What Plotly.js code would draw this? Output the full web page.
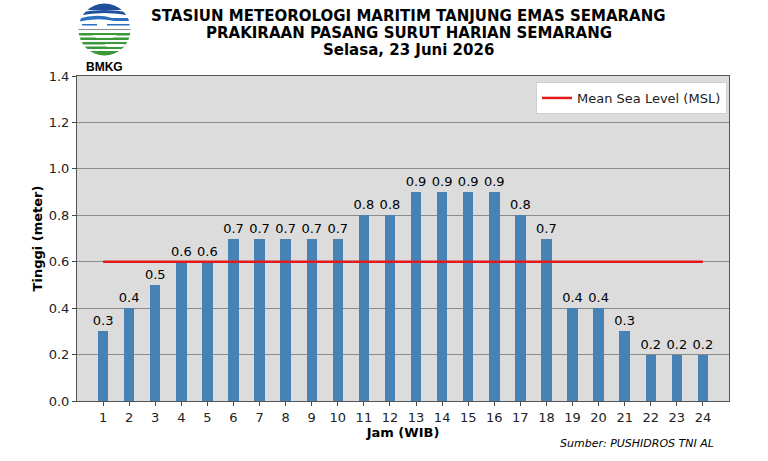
<!DOCTYPE html>
<html>
<head>
<meta charset="utf-8">
<script src="https://cdn.plot.ly/plotly-3.0.1.min.js"></script>
<style>html,body{margin:0;padding:0;background:#fff;}#chart{width:768px;height:461px;}</style>
</head>
<body>
<div id="chart"></div>
<script>
const hours = [1,2,3,4,5,6,7,8,9,10,11,12,13,14,15,16,17,18,19,20,21,22,23,24];
const heights = [0.3,0.4,0.5,0.6,0.6,0.7,0.7,0.7,0.7,0.7,0.8,0.8,0.9,0.9,0.9,0.9,0.8,0.7,0.4,0.4,0.3,0.2,0.2,0.2];
const mslX = [1,24];
const mslY = [0.6,0.6];
const yTicks = [0.0,0.2,0.4,0.6,0.8,1.0,1.2,1.4];
const titleLines = ["STASIUN METEOROLOGI MARITIM TANJUNG EMAS SEMARANG","PRAKIRAAN PASANG SURUT HARIAN SEMARANG","Selasa, 23 Juni 2026"];

const logoSvg = `<svg xmlns="http://www.w3.org/2000/svg" width="110" height="110" viewBox="0 0 110 110">
<defs><clipPath id="c"><circle cx="55" cy="55" r="52"/></clipPath></defs>
<circle cx="55" cy="55" r="53" fill="#ffffff"/>
<g clip-path="url(#c)">
<rect x="0" y="0" width="110" height="16" fill="#1f4e9c"/>
<path d="M0 22 Q55 10 110 22 L110 28 Q55 16 0 28 Z" fill="#1f4e9c"/>
<path d="M0 34 Q40 22 70 32 L110 32 L110 38 L75 38 Q40 30 0 40 Z" fill="#2a6fc0"/>
<rect x="10" y="44" width="30" height="3" fill="#2a6fc0"/>
<rect x="60" y="44" width="45" height="3" fill="#2a6fc0"/>
<rect x="0" y="54" width="110" height="2" fill="#888888"/>
<rect x="0" y="62" width="110" height="5" fill="#3a9a3a"/>
<rect x="0" y="71" width="110" height="5" fill="#3a9a3a"/>
<rect x="0" y="80" width="110" height="5" fill="#3a9a3a"/>
<rect x="0" y="89" width="110" height="5" fill="#3a9a3a"/>
<rect x="0" y="98" width="110" height="12" fill="#3a9a3a"/>
<path d="M30 66 L80 66 L70 72 L40 72 Z" fill="#ffffff"/>
<path d="M55 84 L95 84 L90 90 L60 90 Z" fill="#ffffff"/>
</g>
</svg>`;
const logoUri = "data:image/svg+xml;base64," + btoa(logoSvg);

const W = 768, H = 461, L = 77, R = 39, T = 76, B = 60;
const pw = W - L - R, ph = H - T - B;
function px(x){ return (x - L) / pw; }
function py(y){ return (H - B - y) / ph; }

const labelFont = {family: 'DejaVu Sans', size: 13, color: '#000'};
const traces = [
  {
    type: 'bar', x: hours, y: heights, width: 0.4,
    marker: {color: '#4682b4'},
    text: heights.map(v => v.toFixed(1)), textposition: 'outside',
    constraintext: 'none',
    textfont: labelFont, outsidetextfont: labelFont,
    cliponaxis: false, showlegend: false, hoverinfo: 'x+y'
  },
  {
    type: 'scatter', mode: 'lines', x: mslX, y: mslY,
    line: {color: '#e31a1c', width: 2.5},
    name: 'Mean Sea Level (MSL)', showlegend: true
  }
];

const annotations = [];
titleLines.forEach((t, i) => {
  annotations.push({text: '<b>' + t + '</b>', xref: 'paper', yref: 'paper',
    x: px(409), y: py(16 + i * 17), xanchor: 'center', yanchor: 'middle', showarrow: false,
    font: {family: 'DejaVu Sans', size: 15, color: '#000'}});
});
annotations.push({text: '<b>BMKG</b>', xref: 'paper', yref: 'paper', x: px(104), y: py(67),
  xanchor: 'center', yanchor: 'middle', showarrow: false,
  font: {family: 'Liberation Sans', size: 12, color: '#000'}});
annotations.push({text: '<i>Sumber: PUSHIDROS TNI AL</i>', xref: 'paper', yref: 'paper', x: px(637), y: py(443),
  xanchor: 'center', yanchor: 'middle', showarrow: false,
  font: {family: 'DejaVu Sans', size: 11, color: '#000'}});

const layout = {
  width: W, height: H,
  margin: {l: L, r: R, t: T, b: B, pad: 0},
  paper_bgcolor: '#ffffff', plot_bgcolor: '#dcdcdc',
  font: {family: 'DejaVu Sans', size: 13, color: '#222'},
  xaxis: {
    range: [0, 25], tickmode: 'array', tickvals: hours, ticktext: hours.map(String),
    ticks: 'outside', ticklen: 4, tickcolor: '#444', showgrid: false, zeroline: false,
    showline: true, linecolor: '#555', linewidth: 1, mirror: true,
    tickfont: {family: 'DejaVu Sans', size: 13, color: '#222'},
    title: {text: '<b>Jam (WIB)</b>', font: {family: 'DejaVu Sans', size: 13, color: '#000'}, standoff: 3}
  },
  yaxis: {
    range: [0, 1.4], tickmode: 'array', tickvals: yTicks, ticktext: yTicks.map(v => v.toFixed(1)),
    ticks: 'outside', ticklen: 4, tickcolor: '#444', showgrid: true, gridcolor: '#8a8a8a', gridwidth: 1,
    zeroline: false, showline: true, linecolor: '#555', linewidth: 1, mirror: true,
    tickfont: {family: 'DejaVu Sans', size: 13, color: '#222'},
    title: {text: '<b>Tinggi (meter)</b>', font: {family: 'DejaVu Sans', size: 13, color: '#000'}, standoff: 3}
  },
  legend: {
    x: px(727), y: py(82), xanchor: 'right', yanchor: 'top',
    bgcolor: '#ffffff', bordercolor: '#d0d0d0', borderwidth: 1,
    font: {family: 'DejaVu Sans', size: 13, color: '#222'}
  },
  bargap: 0,
  annotations: annotations,
  images: [{source: logoUri, xref: 'paper', yref: 'paper', x: px(77), y: py(2),
    sizex: 55 / pw, sizey: 55 / ph, xanchor: 'left', yanchor: 'top', layer: 'above', sizing: 'stretch'}],
  showlegend: true
};

Plotly.newPlot('chart', traces, layout, {displayModeBar: false, staticPlot: true});
</script>
</body>
</html>
